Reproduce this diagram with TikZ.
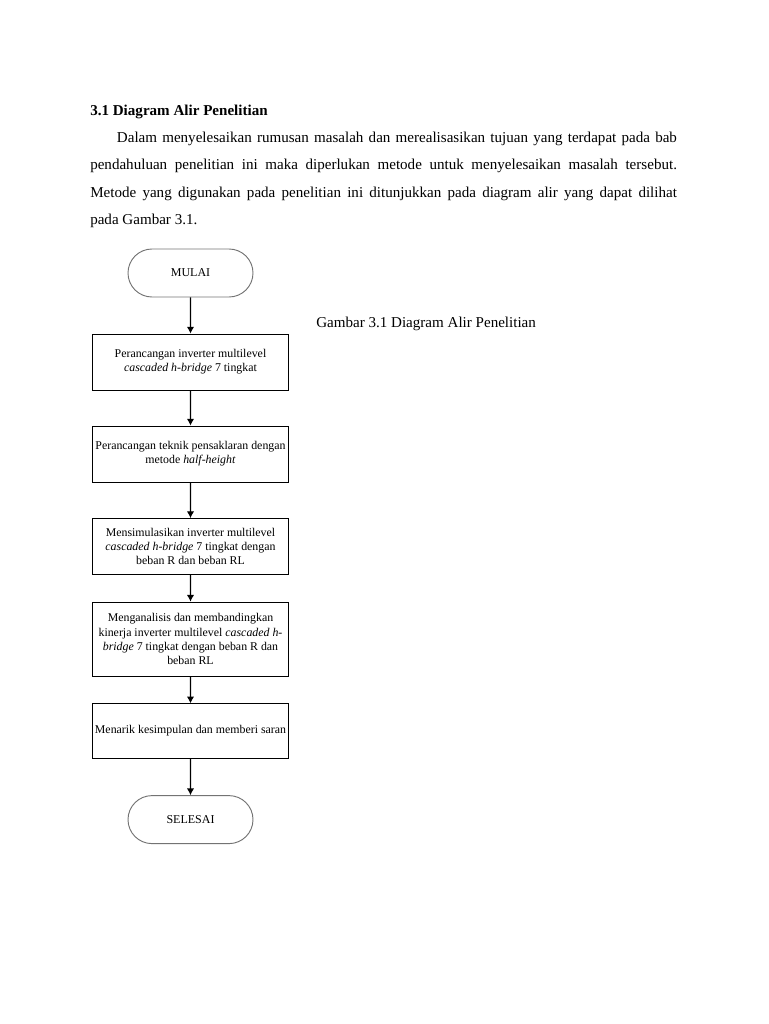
\documentclass[tikz,border=0pt]{standalone}
\usepackage{fontspec}
\setmainfont{Liberation Serif}
\usepackage{tikz}
\usetikzlibrary{arrows,arrows.meta,trees}

\begin{document}
\begin{tikzpicture}[x=0.75pt,y=-0.75pt,level distance=69pt]
\tikzstyle{level 1}=[level distance=66.75pt]
\tikzstyle{level 2}=[level distance=69pt]
\tikzstyle{level 3}=[level distance=69.4pt]
\tikzstyle{level 4}=[level distance=69.4pt]
\tikzstyle{level 5}=[level distance=69pt]
\tikzstyle{level 6}=[level distance=66.4pt]
\tikzstyle{terminal}=[draw=black!55,line width=0.7pt,rounded corners=18pt,minimum width=93.75pt,minimum height=36pt,font=\fontsize{9}{10.7}\selectfont]
\tikzstyle{proses}=[draw,line width=0.7pt,minimum width=147pt,minimum height=42pt,inner xsep=1pt,align=center,font=\fontsize{8.9}{10.7}\selectfont]
\tikzstyle{edge from parent}=[draw,line width=0.8pt,-{Latex[length=5pt,width=5.5pt]}]
\useasboundingbox (0,0) rectangle (768,1024);

% judul dan paragraf
\node[anchor=base west,inner sep=0,font=\fontsize{11.3}{21}\selectfont\bfseries] (judul) at (90,115.5) {3.1 Diagram Alir Penelitian};
\node[anchor=base west,inner sep=0,text width=440pt,align=justify,font=\fontsize{11.3}{20.6}\selectfont] (paragraf) at (90,142.5)
  {\hspace*{20pt}Dalam menyelesaikan rumusan masalah dan merealisasikan tujuan yang terdapat pada bab\linebreak
  pendahuluan penelitian ini maka diperlukan metode untuk menyelesaikan masalah tersebut.\linebreak
  Metode yang digunakan pada penelitian ini ditunjukkan pada diagram alir yang dapat dilihat\linebreak
  pada Gambar 3.1.};
\node[anchor=west,inner sep=0,font=\fontsize{11.3}{14}\selectfont] (gambar) at (316,324) {Gambar 3.1 Diagram Alir Penelitian};

% diagram alir
\node[terminal] (mulai) at (190.5,273) {MULAI}
  child { node[proses] (rancang) {Perancangan inverter multilevel\\ \textit{cascaded h-bridge} 7 tingkat}
    child { node[proses] (teknik) {Perancangan teknik pensaklaran dengan\\ metode \textit{half-height}}
      child { node[proses] (simulasi) {Mensimulasikan inverter multilevel\\ \textit{cascaded h-bridge} 7 tingkat dengan\\ beban R dan beban RL}
        child { node[proses,minimum height=55.5pt] (analisis) {Menganalisis dan membandingkan\\ kinerja inverter multilevel \textit{cascaded h-}\\ \textit{bridge} 7 tingkat dengan beban R dan\\ beban RL}
          child { node[proses,minimum height=41pt] (simpulan) {Menarik kesimpulan dan memberi saran}
            child { node[terminal] (selesai) {SELESAI} }
          }
        }
      }
    }
  };
\end{tikzpicture}
\end{document}
